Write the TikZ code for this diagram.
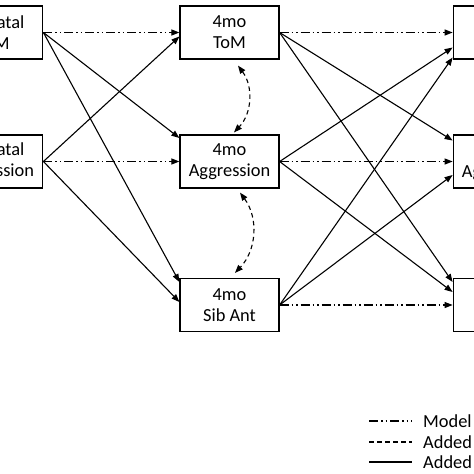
\documentclass[tikz,border=0pt]{standalone}
\usepackage{fontspec}
\setmainfont{Carlito}
\usetikzlibrary{arrows.meta,positioning,calc}

\tikzset{
  box/.style={draw, line width=1.2pt, minimum width=99pt, minimum height=53pt,
    inner sep=0pt, align=center, font=\fontsize{18.4}{21}\selectfont},
  link/.style={line width=1.1pt, -{Triangle[length=8pt,width=6pt]}},
  modelpath/.style={link, dash pattern=on 9pt off 3pt on 1.5pt off 3pt on 1.5pt off 3pt},
  covpath/.style={line width=1.1pt, dash pattern=on 4.5pt off 3.5pt,
    {Triangle[length=8pt,width=6pt]}-{Triangle[length=8pt,width=6pt]}},
  legtext/.style={anchor=west, inner sep=0pt, font=\fontsize{18.4}{21}\selectfont}
}

\begin{document}
\begin{tikzpicture}[x=1pt,y=-1pt]
\clip (0,0) rectangle (474,474);

\node[box] (m1) at (229.5,32.5) {4mo\\ToM};
\node[box] (m2) at (229.5,161.5) {4mo\\Aggression};
\node[box] (m3) at (229.5,305) {4mo\\Sib Ant};
\node[box, left=136pt of m1] (l1) {Prenatal\\ToM};
\node[box, left=136pt of m2] (l2) {Prenatal\\Aggression};
\node[box, right=173pt of m1] (r1) {};
\node[box, right=173pt of m2] (r2) {\strut\\Aggression};
\node[box, right=173pt of m3] (r3) {};

\draw[modelpath] (l1.east) -- (m1.west);
\draw[modelpath] (l2.east) -- (m2.west);
\draw[link] (l1.east) -- ($(m2.west)+(0,-23.5)$);
\draw[link] (l1.east) -- ($(m3.west)+(0,-23)$);
\draw[link] (l2.east) -- ($(m1.west)+(0,4)$);
\draw[link] (l2.east) -- ($(m3.west)+(0,-3)$);

\draw[modelpath] (m1.east) -- (r1.west);
\draw[modelpath] (m2.east) -- (r2.west);
\draw[modelpath] (m3.east) -- (r3.west);
\draw[link] (m1.east) -- ($(r2.west)+(0,-21)$);
\draw[link] (m1.east) -- ($(r3.west)+(0,-23)$);
\draw[link] (m2.east) -- ($(r1.west)+(0,15)$);
\draw[link] (m2.east) -- ($(r3.west)+(0,-13)$);
\draw[link] (m3.east) -- ($(r1.west)+(0,25)$);
\draw[link] (m3.east) -- ($(r2.west)+(0,13.5)$);

\draw[covpath] ($(m1.south)+(8.5,6)$) to[bend left=40] ($(m2.north)+(4.5,-2)$);
\draw[covpath] ($(m2.south)+(10.5,4)$) to[bend left=40] ($(m3.north)+(5.5,-5)$);

\node[legtext] (lgmodel) at (423,421) {Model};
\node[legtext] (lgcov) at (423,442) {Added};
\node[legtext] (lgpath) at (423,462) {Added};
\draw[line width=1.1pt, dash pattern=on 9pt off 3pt on 1.5pt off 3pt on 1.5pt off 3pt]
  ($(lgmodel.west)+(-54,0)$) -- ++(43,0);
\draw[line width=1.1pt, dash pattern=on 4.5pt off 3.5pt] ($(lgcov.west)+(-54,0)$) -- ++(43,0);
\draw[line width=1.1pt] ($(lgpath.west)+(-54,0)$) -- ++(43,0);
\end{tikzpicture}
\end{document}
